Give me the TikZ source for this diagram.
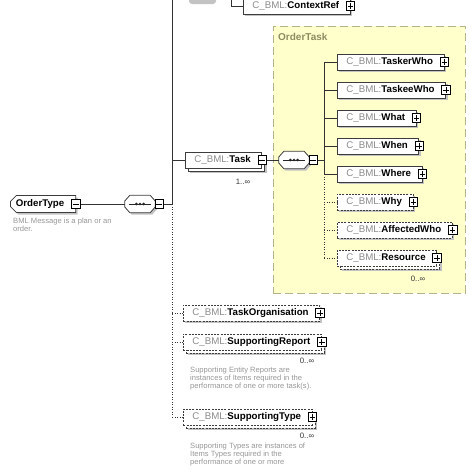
\documentclass[tikz,border=0pt]{standalone}
\usepackage{fontspec}
\setmainfont{Liberation Sans}
\usetikzlibrary{shadows,shapes.misc,calc}
\definecolor{boxline}{RGB}{60,60,60}
\definecolor{pregray}{RGB}{140,140,140}
\definecolor{descgray}{RGB}{150,150,150}
\definecolor{shadowgray}{RGB}{195,195,195}
\definecolor{otfill}{RGB}{255,255,204}
\definecolor{otline}{RGB}{180,180,140}
\definecolor{ottext}{RGB}{140,140,100}
\newcommand\elfont{\fontsize{9.7}{11}\selectfont}
\newcommand\pfx{\textcolor{pregray}{C\_BML:}}
\tikzset{
  elem/.style={draw=boxline, fill=white, anchor=west, minimum height=16pt,
    inner xsep=0pt, inner ysep=0pt, font=\elfont, line width=0.8pt},
  single/.style={drop shadow={shadow xshift=2pt, shadow yshift=-2pt, fill=shadowgray, opacity=1}},
  multi/.style={drop shadow={shadow xshift=5pt, shadow yshift=-5pt, fill=shadowgray, opacity=1},
    copy shadow={shadow xshift=3pt, shadow yshift=-3pt, draw=boxline, fill=white, #1}},
  multi/.default={},
  opt/.style={dash pattern=on 2pt off 1.2pt},
  pbox/.style={draw=black, fill=white, minimum size=8.5pt, inner sep=0pt, line width=0.8pt,
    path picture={\draw[line width=0.8pt] ([xshift=1.5pt]path picture bounding box.west) -- ([xshift=-1.5pt]path picture bounding box.east);
      \draw[line width=0.8pt] ([yshift=1.5pt]path picture bounding box.south) -- ([yshift=-1.5pt]path picture bounding box.north);}},
  mbox/.style={draw=black, fill=white, minimum size=8.5pt, inner sep=0pt, line width=0.8pt,
    path picture={\draw[line width=0.8pt] ([xshift=1.5pt]path picture bounding box.west) -- ([xshift=-1.5pt]path picture bounding box.east);}},
  conn/.style={draw=black!80, line width=0.9pt},
  optconn/.style={conn, dash pattern=on 1.2pt off 1.3pt},
  mult/.style={font=\fontsize{7.8}{8}\selectfont, inner sep=0pt, text=black!80},
  desc/.style={font=\fontsize{7.6}{8}\selectfont, inner sep=0pt, text=descgray, align=left, anchor=north west},
  seqhold/.style={inner sep=0pt, minimum width=30pt, minimum height=17pt},
  seqline/.style={draw=boxline, fill=white, line width=0.8pt, single},
}
\newcommand\El[4]{\node[elem,#2] (#1) at (#3) {\hspace*{9pt}\pfx\textbf{#4}\hspace*{11pt}};}
\newcommand\Seq[2]{%
  \node[seqhold] (#1) at (#2) {};
  \path[seqline] ([yshift=3pt]#1.west) -- ([xshift=5pt]#1.north west) -- ([xshift=-5pt]#1.north east)
    -- ([yshift=3pt]#1.east) -- ([yshift=-3pt]#1.east) -- ([xshift=-5pt]#1.south east)
    -- ([xshift=5pt]#1.south west) -- ([yshift=-3pt]#1.west) -- cycle;
  \draw[line width=0.9pt, black!85] ([xshift=4pt]#1.west) -- ([xshift=-4pt]#1.east);
  \foreach \dx in {-3.6,0,3.6} \fill[black!85] ([xshift=\dx pt]#1.center) circle (1.45pt);
  \node[mbox] (#1m) at ([xshift=4pt]#1.east) {};
}
\begin{document}
\begin{tikzpicture}[x=1pt,y=-1pt]
\useasboundingbox (0,0) rectangle (474,474);
% top remnants
\fill[shadowgray, rounded corners=3pt] (189,-10) rectangle (216,4);
% OrderTask group box
\node[draw=otline, fill=otfill, dash pattern=on 8pt off 4pt, line width=0.8pt,
  minimum width=192pt, minimum height=267pt, anchor=north west, inner sep=0pt] (otbox) at (273,26) {};
\node[anchor=west, inner sep=0pt, font=\fontsize{10}{11}\selectfont\bfseries, text=ottext] (otlabel) at (278,37) {OrderTask};
% coordinates for trunk lines
\coordinate (vtop) at (172,-2);
\coordinate (vjoin) at (172,204);
\coordinate (ctop) at (231,-2);
\coordinate (ivx) at (324,160);
% root
\node[elem, single, chamfered rectangle, chamfered rectangle corners={north west,south west}, chamfered rectangle xsep=2.5pt, minimum height=17pt] (ordertype) at (10,204) {\hspace*{3pt}\textbf{OrderType}\hspace*{9pt}};
\node[mbox] (ordertypem) at (ordertype.east) {};
\node[desc] (orderdesc) at (13,218) {BML Message is a plan or an\\order.};
% first sequence
\Seq{seqa}{140,204}
% level 1 elements
\El{ctx}{single}{243,6}{ContextRef}
\node[pbox] (ctxp) at (ctx.east) {};
\El{task}{multi}{185,160}{Task}
\node[mbox] (taskm) at (task.east) {};
\node[mult] (taskmult) at (243,182) {1..∞};
\El{torg}{opt,single}{183,313}{TaskOrganisation}
\node[pbox] (torgp) at (torg.east) {};
\El{srep}{opt,multi={opt}}{183,342}{SupportingReport}
\node[pbox] (srepp) at (srep.east) {};
\node[mult] (srepmult) at (307,361) {0..∞};
\node[desc] (srepdesc) at (190,367) {Supporting Entity Reports are\\instances of Items required in the\\performance of one or more task(s).};
\El{stype}{opt,multi={opt}}{183,417}{SupportingType}
\node[pbox] (stypep) at (stype.east) {};
\node[mult] (stypemult) at (307,436) {0..∞};
\node[desc] (stypedesc) at (190,443) {Supporting Types are instances of\\Items Types required in the\\performance of one or more};
% second sequence
\Seq{seqb}{294,160}
% level 2 elements
\El{tasker}{single}{337,62}{TaskerWho}
\node[pbox] (taskerp) at (tasker.east) {};
\El{taskee}{single}{337,90}{TaskeeWho}
\node[pbox] (taskeep) at (taskee.east) {};
\El{what}{single}{337,118}{What}
\node[pbox] (whatp) at (what.east) {};
\El{when}{single}{337,146}{When}
\node[pbox] (whenp) at (when.east) {};
\El{where}{single}{337,174}{Where}
\node[pbox] (wherep) at (where.east) {};
\El{why}{opt,single}{337,202}{Why}
\node[pbox] (whyp) at (why.east) {};
\El{aff}{opt,single}{337,230}{AffectedWho}
\node[pbox] (affp) at (aff.east) {};
\El{res}{opt,multi={opt}}{337,258}{Resource}
\node[pbox] (resp) at (res.east) {};
\node[mult] (resmult) at (418,279) {0..∞};
% connectors
\draw[conn] (ordertypem.east) -- (seqa.west);
\draw[conn] (seqam.east) -- (vjoin);
\draw[conn] (vtop) -- (vjoin);
\draw[optconn] (vjoin) -- (vjoin |- stype.west);
\draw[conn] (ctop) |- (ctx.west);
\draw[conn] (task.west -| vtop) -- (task.west);
\draw[optconn] (torg.west -| vtop) -- (torg.west);
\draw[optconn] (srep.west -| vtop) -- (srep.west);
\draw[optconn] (stype.west -| vtop) -- (stype.west);
\draw[conn] (taskm.east) -- (seqb.west);
\draw[conn] (seqbm.east) -- (ivx);
\draw[conn] (tasker.west -| ivx) -- (where.west -| ivx);
\draw[optconn] (where.west -| ivx) -- (res.west -| ivx);
\foreach \n in {tasker,taskee,what,when,where} \draw[conn] (\n.west -| ivx) -- (\n.west);
\foreach \n in {why,aff,res} \draw[optconn] (\n.west -| ivx) -- (\n.west);
\end{tikzpicture}
\end{document}
